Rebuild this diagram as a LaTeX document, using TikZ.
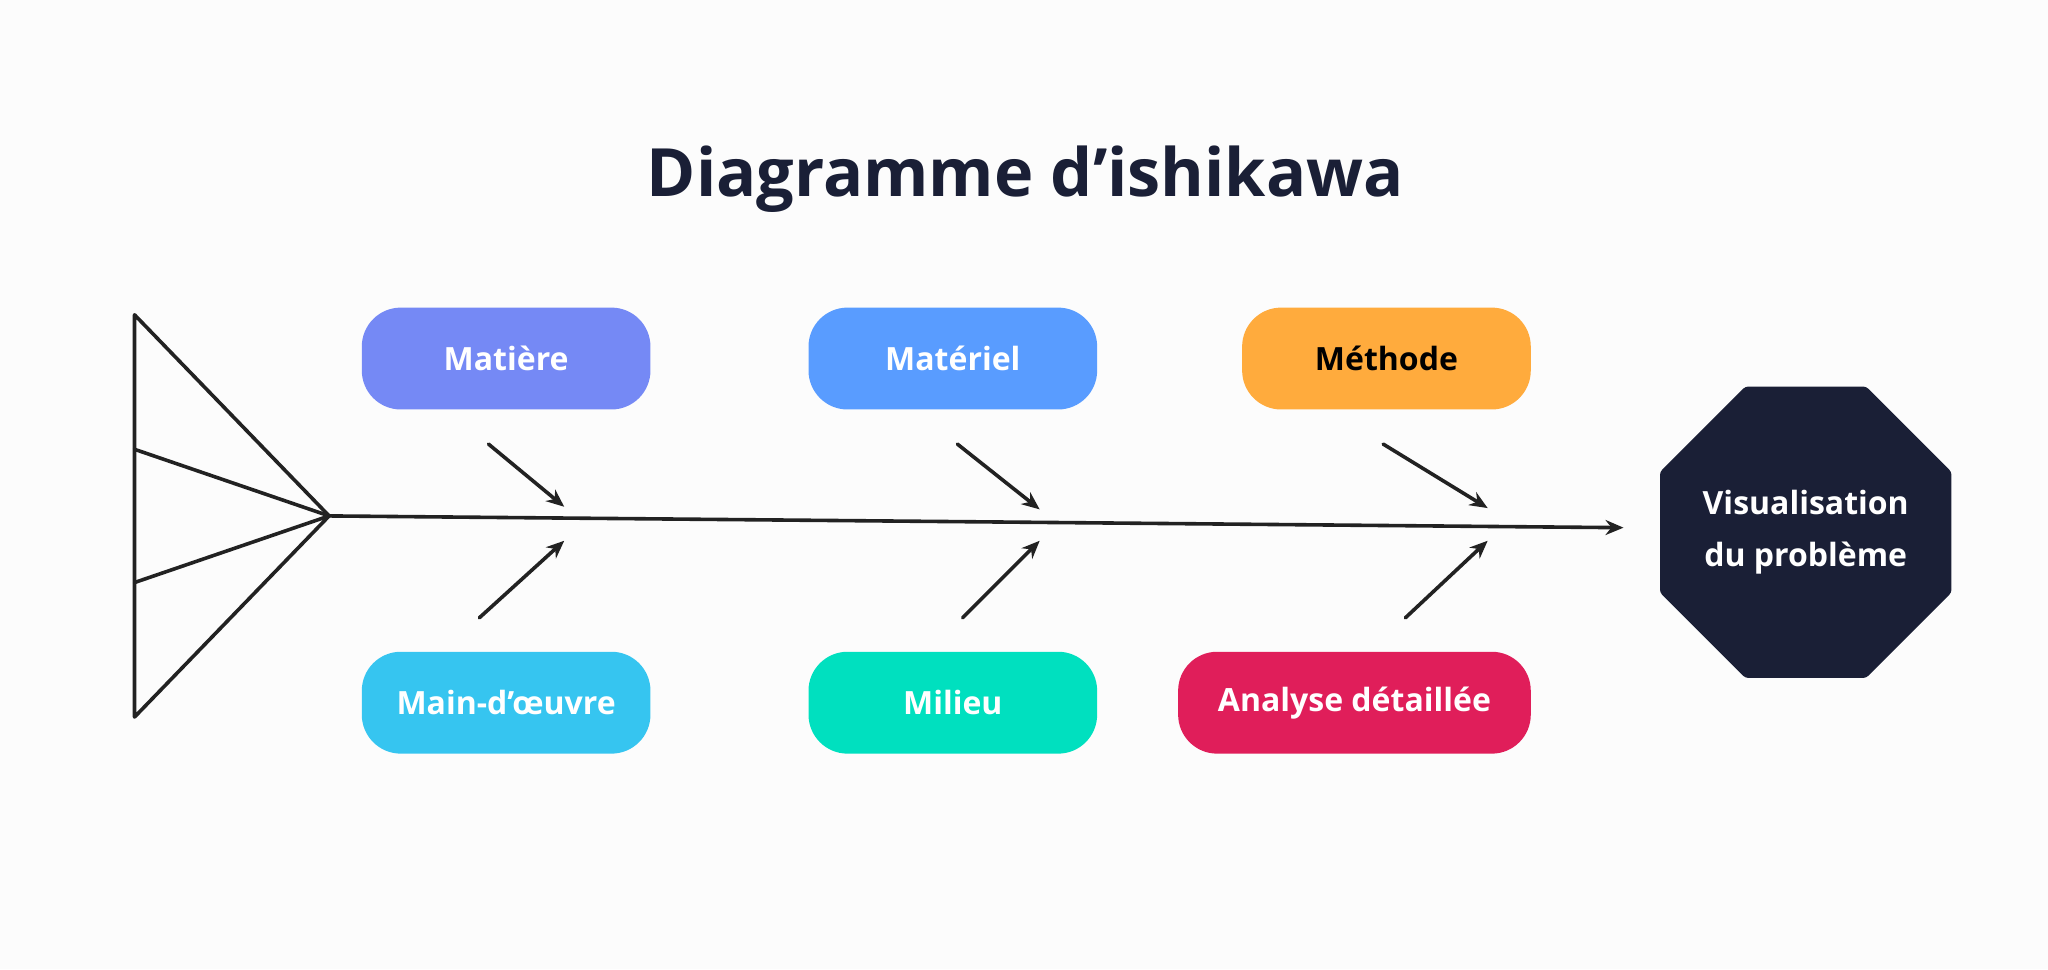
\documentclass[tikz,border=0pt]{standalone}
\usepackage{fontspec}
\setmainfont{Open Sans}
\usetikzlibrary{shapes.geometric,arrows.meta}
\definecolor{navy}{HTML}{1A1F36}
\definecolor{cA}{HTML}{7589F5}
\definecolor{cB}{HTML}{599CFF}
\definecolor{cC}{HTML}{FFAB3D}
\definecolor{cD}{HTML}{36C5F0}
\definecolor{cE}{HTML}{00E0BF}
\definecolor{cF}{HTML}{E01E5A}
\definecolor{ln}{HTML}{222222}
\definecolor{bg}{HTML}{FCFCFC}
\begin{document}
\begin{tikzpicture}[x=1.3061pt,y=-1.3061pt,
  every node/.append style={scale=1.3061},
  box/.style={rounded corners=39pt,minimum height=78pt,text=white,font=\fontsize{24.5}{30}\selectfont\bfseries,inner sep=0pt},
  ln/.style={draw=ln,line width=3.6pt,line cap=round,line join=round},
  ar/.style={ln,-{Stealth[length=18pt,width=15pt]}}]
\useasboundingbox (0,0) rectangle (1568,742);
\fill[bg] (0,0) rectangle (1568,742);
\node[font=\fontsize{51}{60}\selectfont\bfseries,text=navy] (title) at (785,137) {Diagramme d\symbol{39}ishikawa};
\node[box,fill=cA,minimum width=221pt] (b1) at (387.5,274.5) {Matière};
\node[box,fill=cB,minimum width=221pt] (b2) at (729.5,274.5) {Matériel};
\node[box,fill=cC,minimum width=221pt,text=black] (b3) at (1061.5,274.5) {Méthode};
\node[box,fill=cD,minimum width=221pt] (b4) at (387.5,538) {Main-d\symbol{39}œuvre};
\node[box,fill=cE,minimum width=221pt] (b5) at (729.5,538) {Milieu};
\node[box,fill=cF,minimum width=270pt] (b6) at (1037,538) {Analyse détaillée};
\node[regular polygon,regular polygon sides=8,minimum size=239pt,inner sep=0pt,fill=navy,rounded corners=3pt,text=white,align=center,font=\fontsize{24.5}{40}\selectfont\bfseries] (oct) at (1382.5,407.5) {Visualisation\\du problème};
\coordinate (t1) at (103,241);
\coordinate (t2) at (103,549);
\coordinate (t3) at (103,344);
\coordinate (t4) at (103,446);
\coordinate (h) at (252,395);
\coordinate (e) at (1243,404);
\draw[ln] (t1) -- (h) -- (t2) -- cycle;
\draw[ln] (t3) -- (h) -- (t4);
\draw[ar] (h) -- (e);
\coordinate (s1) at (374,340); \coordinate (d1) at (432,388);
\coordinate (s2) at (733,340); \coordinate (d2) at (796,390);
\coordinate (s3) at (1059,340); \coordinate (d3) at (1139,389);
\coordinate (s4) at (367,473); \coordinate (d4) at (432,414);
\coordinate (s5) at (737,473); \coordinate (d5) at (796,414);
\coordinate (s6) at (1076,473); \coordinate (d6) at (1139,414);
\foreach \i in {1,...,6} \draw[ar] (s\i) -- (d\i);
\end{tikzpicture}
\end{document}
